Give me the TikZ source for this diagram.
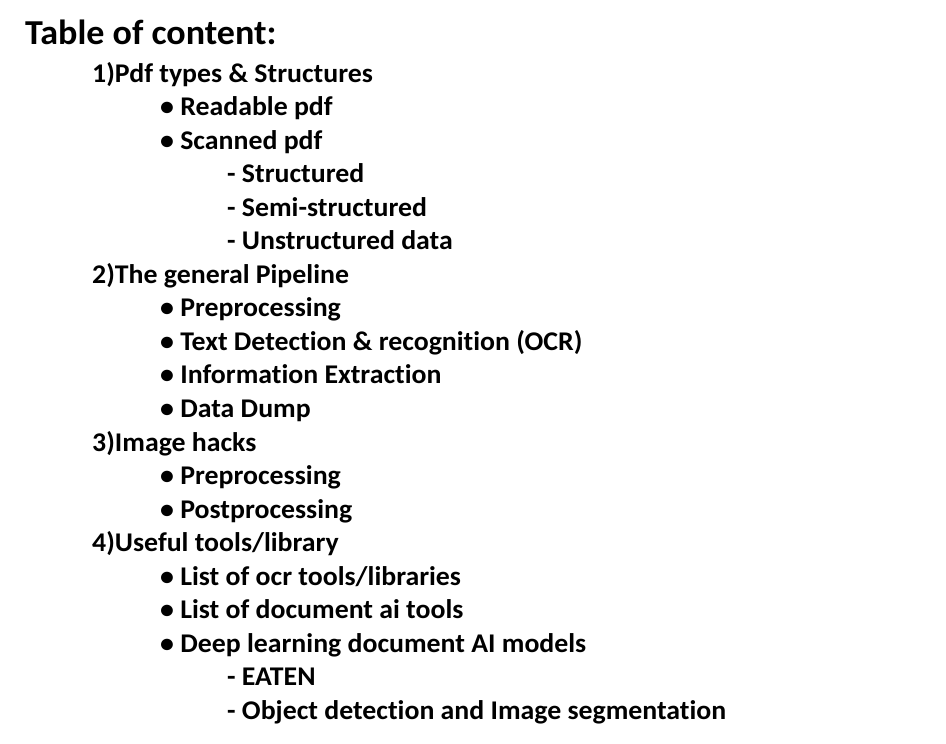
\documentclass[tikz,border=0pt]{standalone}
\usepackage{fontspec}
\setmainfont{Carlito}[RawFeature=-liga,FakeStretch=1.03]
\begin{document}
\begin{tikzpicture}[x=1pt,y=-1pt,
  every node/.style={anchor=base west,inner sep=0pt,font=\bfseries\fontsize{27}{30}\selectfont},
  ttl/.style={font=\bfseries\fontsize{35}{40}\selectfont}]
\useasboundingbox (0,0) rectangle (946,744);
\def\ls{33.55}
\node[ttl] (t) at (25,45) {Table of content:};
\node (a1) at (92,82) {1)Pdf types \& Structures};
\node (a2) at (160,82+1*\ls) {• Readable pdf};
\node (a3) at (160,82+2*\ls) {• Scanned pdf};
\node (a4) at (227,82+3*\ls) {- Structured};
\node (a5) at (227,82+4*\ls) {- Semi-structured};
\node (a6) at (227,82+5*\ls) {- Unstructured data};
\node (b1) at (92,82+6*\ls) {2)The general Pipeline};
\node (b2) at (160,82+7*\ls) {• Preprocessing};
\node (b3) at (160,82+8*\ls) {• Text Detection \& recognition (OCR)};
\node (b4) at (160,82+9*\ls) {• Information Extraction};
\node (b5) at (160,82+10*\ls) {• Data Dump};
\node (c1) at (92,82+11*\ls) {3)Image hacks};
\node (c2) at (160,82+12*\ls) {• Preprocessing};
\node (c3) at (160,82+13*\ls) {• Postprocessing};
\node (d1) at (92,82+14*\ls) {4)Useful tools/library};
\node (d2) at (160,82+15*\ls) {• List of ocr tools/libraries};
\node (d3) at (160,82+16*\ls) {• List of document ai tools};
\node (d4) at (160,82+17*\ls) {• Deep learning document AI models};
\node (d5) at (227,82+18*\ls) {- EATEN};
\node (d6) at (227,82+19*\ls) {- Object detection and Image segmentation};
\end{tikzpicture}
\end{document}
